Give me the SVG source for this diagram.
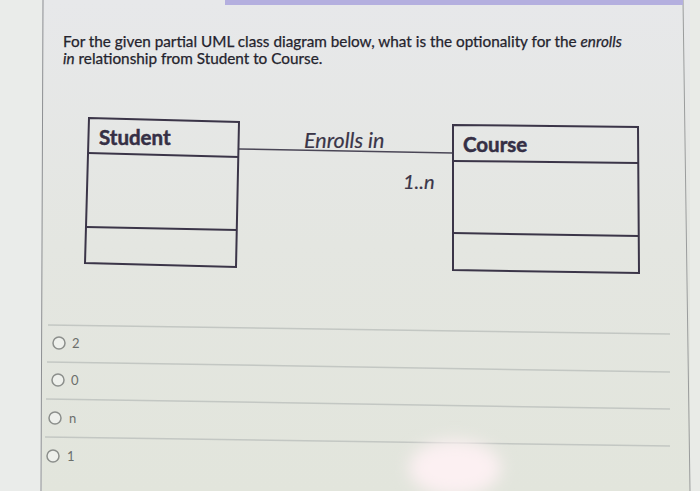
<svg xmlns="http://www.w3.org/2000/svg" width="700" height="491" viewBox="0 0 700 491">
  <defs>
    <linearGradient id="bg" x1="0" y1="0" x2="0" y2="1">
      <stop offset="0" stop-color="#e7e8ea"/>
      <stop offset="0.5" stop-color="#e4e6e1"/>
      <stop offset="1" stop-color="#e2e5dc"/>
    </linearGradient>
    <filter id="blur" x="-50%" y="-50%" width="200%" height="200%">
      <feGaussianBlur stdDeviation="8"/>
    </filter>
  </defs>
  <style>
    .q { font-family: Lato, "Liberation Sans", sans-serif; font-size: 15.3px; fill: #24232d; stroke: #24232d; stroke-width: 0.25; }
    .box { fill: none; stroke: #3b3548; stroke-width: 2; stroke-linejoin: miter; }
    .title { font-family: Lato, "Liberation Sans", sans-serif; font-size: 20.5px; font-weight: bold; fill: #352f45; stroke: #352f45; stroke-width: 0.5; }
    .lbl { font-family: Lato, "Liberation Sans", sans-serif; font-size: 20px; font-style: italic; fill: #3a3548; stroke: #3a3548; stroke-width: 0.2; }
    .big { font-size: 21.5px; }
    .conn { stroke: #4a4656; stroke-width: 1.5; fill: none; }
    .sep { stroke: #c3c7c3; stroke-width: 1.5; }
    .radio { fill: #eef0ec; stroke: #8c8f8c; stroke-width: 1.5; }
    .opt { font-family: Lato, "Liberation Sans", sans-serif; font-size: 13px; fill: #6b6e6b; }
  </style>
  <rect x="0" y="0" width="700" height="491" fill="url(#bg)"/>
  <rect x="0" y="0" width="42" height="491" fill="#eaecea"/>
  <rect x="690" y="0" width="10" height="491" fill="#e9ebe7"/>
  <line x1="43" y1="0" x2="41" y2="491" stroke="#8d8f92" stroke-width="1"/>
  <line x1="683" y1="0" x2="690" y2="491" stroke="#9a9c9c" stroke-width="1"/>
  <rect x="225" y="0" width="458" height="5" fill="#b4afdf"/>

  <text class="q" x="63" y="47">For the given partial UML class diagram below, what is the optionality for the <tspan font-style="italic">enrolls</tspan></text>
  <text class="q" x="63" y="64"><tspan font-style="italic">in</tspan> relationship from Student to Course.</text>

  <g id="connectors">
    <line class="conn" x1="239" y1="149" x2="453" y2="153"/>
    <text class="lbl big" x="304" y="148">Enrolls in</text>
    <text class="lbl" x="403" y="189">1..n</text>
  </g>

  <g id="student">
    <path class="box" d="M89,118 L239,122 L236,267 L85,263 Z"/>
    <line class="box" x1="88" y1="153" x2="239" y2="157"/>
    <line class="box" x1="86" y1="227" x2="237" y2="230"/>
    <text class="title" x="99" y="145">Student</text>
  </g>

  <g id="course">
    <path class="box" d="M453,125 L638,127 L639,273 L453,270 Z"/>
    <line class="box" x1="453" y1="161" x2="638" y2="163"/>
    <line class="box" x1="453" y1="233" x2="639" y2="236"/>
    <text class="title" x="463" y="152">Course</text>
  </g>

  <g id="options">
    <line class="sep" x1="48" y1="325" x2="670" y2="334"/>
    <line class="sep" x1="47" y1="362" x2="670" y2="372"/>
    <line class="sep" x1="46" y1="399" x2="670" y2="409"/>
    <line class="sep" x1="45" y1="437" x2="670" y2="446"/>
    <circle class="radio" cx="59" cy="343" r="6"/>
    <text class="opt" x="72" y="348">2</text>
    <circle class="radio" cx="58" cy="380" r="6"/>
    <text class="opt" x="71" y="385">0</text>
    <circle class="radio" cx="55" cy="418" r="6"/>
    <text class="opt" x="69" y="423">n</text>
    <circle class="radio" cx="53" cy="456" r="6"/>
    <text class="opt" x="67" y="461">1</text>
  </g>

  <ellipse cx="455" cy="468" rx="46" ry="28" fill="#fcf0f2" filter="url(#blur)"/>
</svg>
